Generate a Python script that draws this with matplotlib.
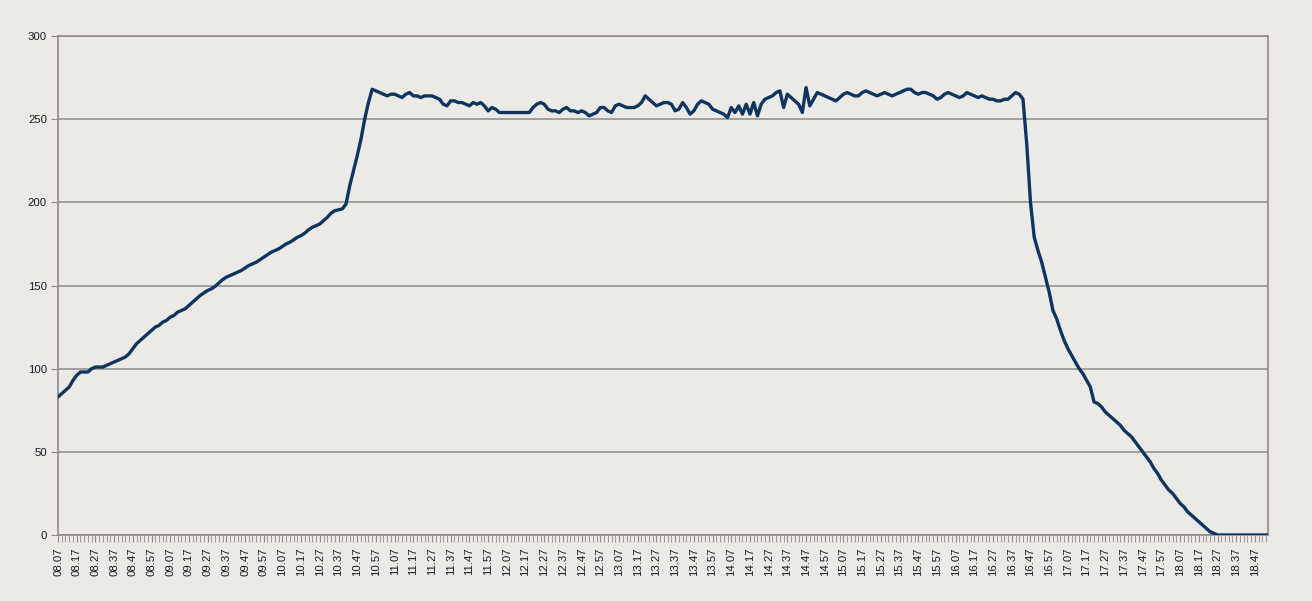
import matplotlib
matplotlib.use("Agg")
import matplotlib.pyplot as plt
from matplotlib.ticker import MultipleLocator

# minutes after 08:07, one reading every 2 minutes
minutos = list(range(0, 648, 2))

valores = [
    83, 85, 87, 89, 93, 96, 98, 98, 98, 100,
    101, 101, 101, 102, 103, 104, 105, 106, 107, 109,
    112, 115, 117, 119, 121, 123, 125, 126, 128, 129,
    131, 132, 134, 135, 136, 138, 140, 142, 144, 145.5,
    147, 148, 149.5, 151.5, 153.5, 155, 156, 157, 158, 159,
    160.5, 162, 163, 164, 165.5, 167, 168.5, 170, 171, 172,
    173.5, 175, 176, 177.5, 179, 180, 181.5, 183.5, 185, 186,
    187, 189, 191, 193.5, 195, 195.5, 196, 199, 210, 219,
    228, 238, 250, 260, 268, 267, 266, 265, 264, 265,
    265, 264, 263, 265, 266, 264, 264, 263, 264, 264,
    264, 263, 262, 259, 258, 261, 261, 260, 260, 259,
    258, 260, 259, 260, 258, 255, 257, 256, 254, 254,
    254, 254, 254, 254, 254, 254, 254, 257, 259, 260,
    259, 256, 255, 255, 254, 256, 257, 255, 255, 254,
    255, 254, 252, 253, 254, 257, 257, 255, 254, 258,
    259, 258, 257, 257, 257, 258, 260, 264, 262, 260,
    258, 259, 260, 260, 259, 255, 256, 260, 257, 253,
    255, 259, 261, 260, 259, 256, 255, 254, 253, 251,
    257, 254, 258, 253, 259, 253, 260, 252, 259, 262,
    263, 264, 266, 267, 257, 265, 263, 261, 259, 254,
    269, 258, 262, 266, 265, 264, 263, 262, 261, 263,
    265, 266, 265, 264, 264, 266, 267, 266, 265, 264,
    265, 266, 265, 264, 265, 266, 267, 268, 268, 266,
    265, 266, 266, 265, 264, 262, 263, 265, 266, 265,
    264, 263, 264, 266, 265, 264, 263, 264, 263, 262,
    262, 261, 261, 262, 262, 264, 266, 265, 262, 235,
    200, 179, 171, 164, 155, 146, 135, 130, 123, 117,
    112, 108, 104, 100, 97, 93, 89, 80, 79, 77,
    74, 72, 70, 68, 66, 63, 61, 59, 56, 53,
    50, 47, 44, 40, 37, 33, 30, 27, 25, 22,
    19, 17, 14, 12, 10, 8, 6, 4, 2, 1,
    0, 0, 0, 0, 0, 0, 0, 0, 0, 0,
    0, 0, 0, 0,
]

etiquetas = [
    "08.07", "08.17", "08.27", "08.37", "08.47", "08.57",
    "09.07", "09.17", "09.27", "09.37", "09.47", "09.57",
    "10.07", "10.17", "10.27", "10.37", "10.47", "10.57",
    "11.07", "11.17", "11.27", "11.37", "11.47", "11.57",
    "12.07", "12.17", "12.27", "12.37", "12.47", "12.57",
    "13.07", "13.17", "13.27", "13.37", "13.47", "13.57",
    "14.07", "14.17", "14.27", "14.37", "14.47", "14.57",
    "15.07", "15.17", "15.27", "15.37", "15.47", "15.57",
    "16.07", "16.17", "16.27", "16.37", "16.47", "16.57",
    "17.07", "17.17", "17.27", "17.37", "17.47", "17.57",
    "18.07", "18.17", "18.27", "18.37", "18.47",
]
posicoes = [10 * i for i in range(len(etiquetas))]

fundo = "#ECEAE7"
cinza = "#8E8B88"

plt.rcParams["font.family"] = ["Liberation Sans", "DejaVu Sans"]

fig = plt.figure(figsize=(13.12, 6.01), dpi=100, facecolor=fundo)
ax = fig.add_axes([58 / 1312, 1 - 535 / 601, (1268 - 58) / 1312, (535 - 36) / 601])
ax.set_facecolor(fundo)

ax.plot(minutos, valores, color="#0E3560", linewidth=2.4, solid_joinstyle="round", zorder=3)

ax.set_xlim(0, 647)
ax.set_ylim(0, 300)
ax.set_yticks([0, 50, 100, 150, 200, 250, 300])
ax.grid(axis="y", color=cinza, linewidth=1.1)
ax.set_axisbelow(True)

ax.set_xticks(posicoes)
ax.set_xticklabels(etiquetas, rotation=90, fontsize=8.2, color="#1a1a1a")
ax.xaxis.set_minor_locator(MultipleLocator(2))
ax.tick_params(axis="x", which="major", length=5, color=cinza, pad=4)
ax.tick_params(axis="x", which="minor", length=5, color=cinza)
ax.tick_params(axis="y", length=5, color=cinza, labelsize=8.2, labelcolor="#1a1a1a", pad=3)

for lado in ["left", "bottom", "right", "top"]:
    ax.spines[lado].set_color(cinza)
    ax.spines[lado].set_linewidth(1.2)

fig.savefig("out.png", dpi=100, facecolor=fundo)
